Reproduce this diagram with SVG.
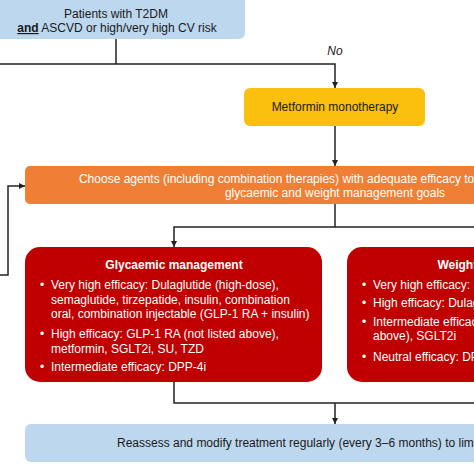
<svg xmlns="http://www.w3.org/2000/svg" width="474" height="474" viewBox="0 0 474 474">
<style>
  text { font-family: "Liberation Sans", Arial, sans-serif; font-size: 12px; }
  .c { text-anchor: middle; }
  .blue { fill: #bdd7ee; }
  .yel { fill: #fbbf0e; }
  .org { fill: #ee7f35; }
  .red { fill: #c00000; }
  .w { fill: #ffffff; }
  .k { fill: #1a1a1a; }
  .b { font-weight: bold; }
  .conn { fill: none; stroke: #222222; stroke-width: 1.5; }
</style>
<defs>
  <marker id="arr" viewBox="0 0 10 10" refX="10" refY="5" markerWidth="6" markerHeight="6" markerUnits="userSpaceOnUse" orient="auto">
    <path d="M0,0 L10,5 L0,10 z" fill="#222222"/>
  </marker>
</defs>
<rect width="474" height="474" fill="#ffffff"/>

<g id="connectors">
  <path class="conn" d="M116,39 V64"/>
  <path class="conn" d="M0,64 H335 V88" marker-end="url(#arr)"/>
  <path class="conn" d="M335,126 V166" marker-end="url(#arr)"/>
  <path class="conn" d="M0,275 H8 V186 H25" marker-end="url(#arr)"/>
  <path class="conn" d="M335,204 V227"/>
  <path class="conn" d="M496,227 H174 V247" marker-end="url(#arr)"/>
  <path class="conn" d="M174,382 V403 H496 V382"/>
  <path class="conn" d="M335,403 V424" marker-end="url(#arr)"/>
  <text class="c k" x="335" y="55" font-style="italic">No</text>
</g>

<g id="node-patients">
  <rect class="blue" x="-20" y="-10" width="265" height="49" rx="6"/>
  <text class="c k" x="116" y="18">Patients with T2DM</text>
  <text class="c k" x="117" y="32"><tspan class="b" text-decoration="underline">and</tspan> ASCVD or high/very high CV risk</text>
</g>

<g id="node-metformin">
  <rect class="yel" x="244" y="88" width="181" height="38" rx="6"/>
  <text class="c k" x="335" y="111">Metformin monotherapy</text>
</g>

<g id="node-choose">
  <rect class="org" x="25" y="166" width="620" height="38" rx="5"/>
  <text class="c w" x="335" y="182.5">Choose agents (including combination therapies) with adequate efficacy to achieve and maintain</text>
  <text class="c w" x="335" y="196.5">glycaemic and weight management goals</text>
</g>

<g id="node-glycaemic">
  <rect class="red" x="25" y="247" width="297" height="135" rx="15"/>
  <text class="c w b" x="174" y="269">Glycaemic management</text>
  <text class="w" x="40" y="289">•</text>
  <text class="w" x="51" y="289">Very high efficacy: Dulaglutide (high-dose),</text>
  <text class="w" x="51" y="303.5">semaglutide, tirzepatide, insulin, combination</text>
  <text class="w" x="51" y="318">oral, combination injectable (GLP-1 RA + insulin)</text>
  <text class="w" x="40" y="338">•</text>
  <text class="w" x="51" y="338">High efficacy: GLP-1 RA (not listed above),</text>
  <text class="w" x="51" y="352.5">metformin, SGLT2i, SU, TZD</text>
  <text class="w" x="40" y="371">•</text>
  <text class="w" x="51" y="371">Intermediate efficacy: DPP-4i</text>
</g>

<g id="node-weight">
  <rect class="red" x="347" y="247" width="297" height="135" rx="15"/>
  <text class="c w b" x="496" y="269">Weight management</text>
  <text class="w" x="362" y="289">•</text>
  <text class="w" x="373" y="289">Very high efficacy: Semaglutide, tirzepatide</text>
  <text class="w" x="362" y="307">•</text>
  <text class="w" x="373" y="307">High efficacy: Dulaglutide, liraglutide</text>
  <text class="w" x="362" y="325.5">•</text>
  <text class="w" x="373" y="325.5">Intermediate efficacy: GLP-1 RA (not listed</text>
  <text class="w" x="373" y="340">above), SGLT2i</text>
  <text class="w" x="362" y="360.5">•</text>
  <text class="w" x="373" y="360.5">Neutral efficacy: DPP-4i, metformin</text>
</g>

<g id="node-reassess">
  <rect class="blue" x="25" y="424" width="620" height="38" rx="6"/>
  <text class="k" x="117" y="447">Reassess and modify treatment regularly (every 3–6 months) to limit clinical inertia</text>
</g>
</svg>
